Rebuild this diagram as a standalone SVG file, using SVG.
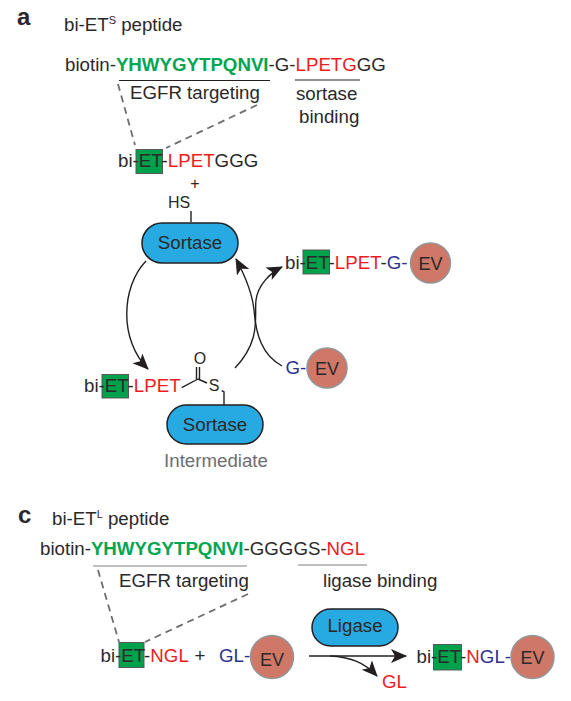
<svg xmlns="http://www.w3.org/2000/svg" width="571" height="701" viewBox="0 0 571 701">
<style>
text{font-family:"Liberation Sans",Arial,sans-serif;font-size:18.700px;fill:#2b2829}
.r{fill:#ed1c24}.g{fill:#00a651;font-weight:700}.b{fill:#2e3192}
.h{font-weight:700;font-size:24px}
.e{fill:#00a14b;stroke:#58595b;stroke-width:1}
.p{fill:#27aae1;stroke:#231f20;stroke-width:1.5}
.v{fill:#cf7867;stroke:#939598;stroke-width:1.5}
.c{text-anchor:middle}
.k{fill:none;stroke:#231f20;stroke-width:1.4}
.u{fill:none;stroke:#231f20;stroke-width:1.2}
.u2{fill:none;stroke:#808285;stroke-width:1.2}
.d{fill:none;stroke:#6d6e71;stroke-width:1.8;stroke-dasharray:7 5}
</style>
<defs>
<marker id="ah" markerUnits="userSpaceOnUse" markerWidth="20" markerHeight="16" refX="15" refY="7" orient="auto">
<path d="M0 0L16 7L0 14L4 7Z" fill="#231f20"/>
</marker>
</defs>

<g id="connectors">
<path class="u" d="M119 80.500H270M295 80H360"/>
<path class="u2" d="M93 566H247M298 565H367"/>
<path class="d" d="M118 84L135 145M257 105L166 148M98 570L119 642M248 594L145 642"/>
<path class="k" d="M191 211V222"/>
<path class="k" marker-end="url(#ah)" d="M146 261C121 287 119 340 148 369"/>
<path class="k" marker-end="url(#ah)" d="M282 366C262 355 256 335 254 310C252 290 243 272 236 259"/>
<path class="k" marker-end="url(#ah)" d="M235 368C262 340 254 315 256 300C258 285 270 273 282 267"/>
<path class="k" d="M181.700 387.700L198 379M196.500 379V367M199.500 379V367M198 379L207 383M221.700 390.700L224 392V405"/>
<path class="k" stroke-width="1.600" marker-end="url(#ah)" d="M309 656H406"/>
<path class="k" marker-end="url(#ah)" d="M330 656C350 657 364 662 377 676"/>
</g>

<g id="label-a"><text class="h" x="17" y="25">a</text></g>
<g id="title-a"><text x="64" y="31">bi-ET<tspan font-size="11" dy="-7">S</tspan><tspan dy="7"> peptide</tspan></text></g>
<g id="seq-a"><text x="65" y="71">biotin-<tspan class="g">YHWYGYTPQNVI</tspan>-G-<tspan class="r">LPETG</tspan>GG</text></g>
<g id="egfr-a"><text x="130" y="99">EGFR targeting</text></g>
<g id="sortase-binding"><text x="296" y="100">sortase</text><text x="299" y="123">binding</text></g>

<g id="bi-et-s">
<rect class="e" x="136" y="149.500" width="26.500" height="24"/>
<text x="118" y="167">bi-ET-<tspan class="r">LPET</tspan>GGG</text>
</g>
<g id="plus-a"><text x="195" y="189" class="c" style="font-size:16px">+</text></g>
<g id="hs"><text x="168" y="208" style="font-size:16px">HS</text></g>

<g id="sortase-top">
<rect class="p" x="142" y="223" width="96" height="40" rx="20"/>
<text x="190" y="249" class="c">Sortase</text>
</g>

<g id="product-a">
<rect class="e" x="303" y="250" width="26.500" height="24"/>
<text x="285" y="269">bi-ET-<tspan class="r">LPET</tspan>-<tspan class="b">G-</tspan></text>
<circle class="v" cx="430.500" cy="263" r="20"/>
<text x="430.500" y="269.500" class="c" style="font-size:18px">EV</text>
</g>

<g id="g-ev">
<text x="285.500" y="374" class="b">G-</text>
<circle class="v" cx="327" cy="368" r="20"/>
<text x="327" y="374.500" class="c" style="font-size:18px">EV</text>
</g>

<g id="intermediate-peptide">
<rect class="e" x="102" y="374.500" width="26.500" height="23.500"/>
<text x="84" y="392">bi-ET-<tspan class="r">LPET</tspan></text>
<text x="200" y="363.500" class="c" style="font-size:16px">O</text>
<text x="214" y="391" class="c" style="font-size:16px">S</text>
</g>

<g id="sortase-bottom">
<rect class="p" x="167" y="405" width="96" height="39" rx="19.500"/>
<text x="215" y="430.500" class="c">Sortase</text>
</g>
<g id="intermediate-label"><text x="216" y="466.500" class="c" style="fill:#6d6e71">Intermediate</text></g>

<g id="label-c"><text class="h" x="18" y="523">c</text></g>
<g id="title-c"><text x="52" y="525">bi-ET<tspan font-size="11" dy="-7">L</tspan><tspan dy="7"> peptide</tspan></text></g>
<g id="seq-c"><text x="40" y="555">biotin-<tspan class="g">YHWYGYTPQNVI</tspan>-GGGGS-<tspan class="r">NGL</tspan></text></g>
<g id="egfr-c"><text x="119" y="587">EGFR targeting</text></g>
<g id="ligase-binding"><text x="323" y="587">ligase binding</text></g>

<g id="bi-et-l">
<rect class="e" x="119" y="642.500" width="25" height="25"/>
<text x="100.500" y="661.500">bi-ET-<tspan class="r">NGL</tspan></text>
</g>
<g id="plus-c"><text x="200" y="662" class="c">+</text></g>
<g id="gl-ev">
<text x="219" y="662" class="b">GL-</text>
<circle class="v" cx="272" cy="657" r="21.500"/>
<text x="272" y="665.500" class="c" style="font-size:18px">EV</text>
</g>

<g id="ligase">
<rect class="p" x="312" y="609" width="86" height="37" rx="18.500"/>
<text x="355" y="631.500" class="c">Ligase</text>
</g>
<g id="gl"><text x="382" y="688" class="r">GL</text></g>

<g id="product-c">
<rect class="e" x="433.500" y="644.500" width="28" height="25.500"/>
<text x="416.500" y="663">bi-ET-<tspan class="r">N</tspan><tspan class="b">GL-</tspan></text>
<circle class="v" cx="532.500" cy="657" r="21.500"/>
<text x="532.500" y="664" class="c" style="font-size:18px">EV</text>
</g>
</svg>
